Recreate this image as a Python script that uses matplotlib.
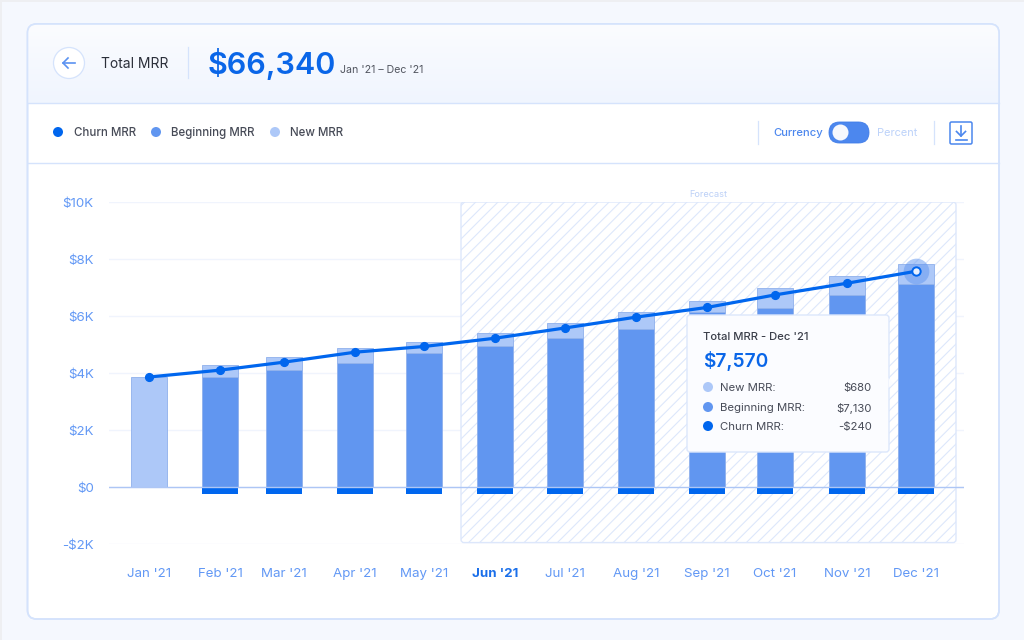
import numpy as np
import matplotlib.pyplot as plt
from matplotlib.patches import FancyBboxPatch, Circle, Rectangle, Polygon
from matplotlib.transforms import ScaledTranslation

months = ["Jan '21", "Feb '21", "Mar '21", "Apr '21", "May '21", "Jun '21",
          "Jul '21", "Aug '21", "Sep '21", "Oct '21", "Nov '21", "Dec '21"]
new_mrr = [3860, 420, 460, 530, 390, 450, 520, 600, 390, 700, 660, 680]
beginning_mrr = [0, 3860, 4100, 4350, 4700, 4950, 5230, 5540, 6140, 6280, 6740, 7130]
churn_mrr = [0, -240, -240, -240, -240, -240, -240, -240, -250, -250, -260, -240]
total_mrr = [3860, 4100, 4380, 4730, 4930, 5220, 5580, 5960, 6300, 6740, 7150, 7570]
y_ticks = [-2000, 0, 2000, 4000, 6000, 8000, 10000]
y_labels = ["-$2K", "$0", "$2K", "$4K", "$6K", "$8K", "$10K"]
legend_names = ["Churn MRR", "Beginning MRR", "New MRR"]
tooltip_rows = [("New MRR:", "$680"), ("Beginning MRR:", "$7,130"), ("Churn MRR:", "-$240")]

# the months are not evenly spaced in the picture
x_pos = [149, 220, 284, 355, 424, 495, 565, 636, 707, 775, 847, 916]

C_CHURN = "#0066EE"
C_BEGIN = "#6196F0"
C_NEW = "#ADC8F8"
C_TICK = "#6298F5"
C_LINE = "#D5E3FC"

plt.rcParams["font.family"] = ["Inter", "DejaVu Sans"]
plt.rcParams["hatch.linewidth"] = 0.8
plt.rcParams["hatch.color"] = "#D3E0FA"

W, H = 1024, 640
fig = plt.figure(figsize=(W / 100, H / 100), dpi=100, facecolor="#F5F8FE")

# page furniture, in pixel coordinates
bg = fig.add_axes([0, 0, 1, 1], zorder=0)
bg.set_xlim(0, W)
bg.set_ylim(H, 0)
bg.axis("off")
bg.add_patch(Rectangle((0, 0), W, 2, color="#EEEFF2", lw=0))
bg.add_patch(Rectangle((0, 0), 2, H, color="#EEEFF2", lw=0))

card = FancyBboxPatch((27.5, 24), 971.5, 595, boxstyle="round,pad=0,rounding_size=9",
                      fc="white", ec=C_LINE, lw=1.2, zorder=1)
bg.add_patch(card)
grad = np.linspace(0, 1, 80).reshape(-1, 1)
header = bg.imshow(grad, extent=(27.5, 999, 103, 24), aspect="auto", zorder=1.5,
                   cmap=plt.matplotlib.colors.LinearSegmentedColormap.from_list("h", ["#FBFCFF", "#F0F5FE"]))
header.set_clip_path(FancyBboxPatch((27.5, 24), 971.5, 100, boxstyle="round,pad=0,rounding_size=9",
                                    transform=bg.transData))
bg.set_xlim(0, W)
bg.set_ylim(H, 0)
bg.add_patch(FancyBboxPatch((27.5, 24), 971.5, 595, boxstyle="round,pad=0,rounding_size=9",
                            fc="none", ec=C_LINE, lw=1.2, zorder=2))
bg.plot([28, 999], [103, 103], color=C_LINE, lw=1, zorder=2)
bg.plot([28, 999], [162.5, 162.5], color=C_LINE, lw=1, zorder=2)

bg.add_patch(Circle((69, 63), 15.5, fc="white", ec=C_LINE, lw=0.9, zorder=3))
bg.plot([63, 75], [63, 63], color="#5B92F1", lw=1.2, zorder=4)
bg.plot([68, 63, 68], [58, 63, 68], color="#5B92F1", lw=1.2, zorder=4)
bg.text(101, 64, "Total MRR", fontsize=10, color="#2B2F3A", va="center", ha="left", zorder=4)
bg.plot([187.5, 187.5], [47, 78], color=C_LINE, lw=0.9, zorder=3)
bg.text(208, 64, "$66,340", fontsize=22, color="#0A66E8", weight="semibold", va="center", ha="left", zorder=4)
bg.text(340, 70, "Jan '21 – Dec '21", fontsize=7.6, color="#51555F", va="center", ha="left", zorder=4)

for lx, tx, name, col in zip([58, 156, 275], [74, 171, 290], legend_names, [C_CHURN, C_BEGIN, C_NEW]):
    bg.add_patch(Circle((lx, 132), 5, fc=col, ec="none", zorder=3))
    bg.text(tx, 133, name, fontsize=8.3, color="#474B57", weight="medium", va="center", ha="left", zorder=3)

bg.plot([757.5, 757.5], [121, 144], color=C_LINE, lw=0.9, zorder=3)
bg.plot([933.5, 933.5], [121, 144], color=C_LINE, lw=0.9, zorder=3)
bg.text(773, 133, "Currency", fontsize=8.1, color="#4C87EE", weight="medium", va="center", ha="left", zorder=3)
bg.text(877, 133, "Percent", fontsize=7.9, color="#BCD2FA", va="center", ha="left", zorder=3)
bg.add_patch(FancyBboxPatch((829, 122), 40, 21, boxstyle="round,pad=0,rounding_size=10.5",
                            fc="#4C87EE", ec="#3F7CE8", lw=0.6, zorder=3))
bg.add_patch(Circle((840.5, 132.5), 8, fc="#F6F8FD", ec="none", zorder=4))
bg.add_patch(FancyBboxPatch((950, 122), 22, 22, boxstyle="round,pad=0,rounding_size=1.5",
                            fc="white", ec="#4C87EE", lw=1.1, zorder=3))
bg.plot([961, 961], [126, 136], color="#4C87EE", lw=1.2, zorder=4)
bg.plot([956.5, 961, 965.5], [131.5, 136, 131.5], color="#4C87EE", lw=1.2, zorder=4)
bg.plot([955.5, 966.5], [139.5, 139.5], color="#4C87EE", lw=1.2, zorder=4)

# chart
ax = fig.add_axes([109 / W, 1 - 544 / H, (964 - 109) / W, (544 - 202) / H], zorder=2)
ax.set_facecolor("none")
ax.set_xlim(109, 964)
ax.set_ylim(-2000, 10000)
for s in ax.spines.values():
    s.set_visible(False)

ax.set_yticks(y_ticks, y_labels)
ax.set_xticks(x_pos, months)
ax.tick_params(length=0, labelsize=9.6, labelcolor=C_TICK)
ax.tick_params(axis="x", pad=17)
ax.tick_params(axis="y", pad=11)
# y labels sit a little low in the picture
for t in ax.get_yticklabels():
    t.set_verticalalignment("center")
    t.set_transform(t.get_transform() + ScaledTranslation(0, -2 / 100, fig.dpi_scale_trans))
ax.grid(axis="y", color="#F0F4FD", lw=1)
ax.set_axisbelow(True)
ax.get_xticklabels()[5].set_weight("bold")
ax.get_xticklabels()[5].set_color("#1A6FEA")

# forecast zone from Jun to the right end
forecast = FancyBboxPatch((461, -1950), 495, 11950, boxstyle="round,pad=0,rounding_size=3",
                          mutation_aspect=35, fc="white", ec="#DDE7FB", lw=1, hatch="///", zorder=1)
ax.add_patch(forecast)
ax.text(708, 10270, "Forecast", fontsize=6.6, color="#BCD0F7", ha="center", va="center")

bar_w = 36
edge = "#8FB0EC"
bottoms = np.array(beginning_mrr)
ax.bar(x_pos, beginning_mrr, width=bar_w, color=C_BEGIN, edgecolor=edge, lw=0.6, zorder=3)
ax.bar(x_pos, new_mrr, width=bar_w, bottom=bottoms, color=C_NEW, edgecolor=edge, lw=0.6, zorder=3)
ax.bar(x_pos, churn_mrr, width=bar_w, color=C_CHURN, edgecolor="none", zorder=3)
ax.axhline(0, color="#ADC6F5", lw=1, zorder=4)

ax.plot(x_pos, total_mrr, color=C_CHURN, lw=2.3, marker="o", ms=5.6, zorder=5, clip_on=False)
ax.plot(x_pos[-1], total_mrr[-1], marker="o", ms=18.5, color="#6196F0", alpha=0.5, mew=0, zorder=4.5)
ax.plot(x_pos[-1], total_mrr[-1], marker="o", ms=6, mfc="#E8F0FE", mec=C_CHURN, mew=1.4, zorder=6)

# tooltip over the chart
top = fig.add_axes([0, 0, 1, 1], zorder=3)
top.set_xlim(0, W)
top.set_ylim(H, 0)
top.axis("off")
top.add_patch(FancyBboxPatch((687, 315), 202, 137, boxstyle="round,pad=0,rounding_size=3",
                             fc="#FBFCFF", ec="#DCE7FC", lw=1, zorder=1))
top.add_patch(Polygon([[888.5, 378], [893, 383], [888.5, 388]], closed=True, fc="#FBFCFF", ec="none", zorder=2))
top.text(703, 337, "Total MRR - Dec '21", fontsize=8.1, color="#3A3E49", weight="medium", va="center", ha="left", zorder=3)
top.text(703, 361, "$7,570", fontsize=13.8, color="#0A66E8", weight="semibold", va="center", ha="left", zorder=3)
for ry, (label, value), col in zip([387, 407, 426], tooltip_rows, [C_NEW, C_BEGIN, C_CHURN]):
    top.add_patch(Circle((708, ry), 5, fc=col, ec="none", zorder=3))
    top.text(720, ry + 1, label, fontsize=8.2, color="#474B57", va="center", ha="left", zorder=3)
    top.text(872, ry + 1, value, fontsize=8.2, color="#474B57", va="center", ha="right", zorder=3)

fig.savefig("out.png", dpi=100, facecolor=fig.get_facecolor())
